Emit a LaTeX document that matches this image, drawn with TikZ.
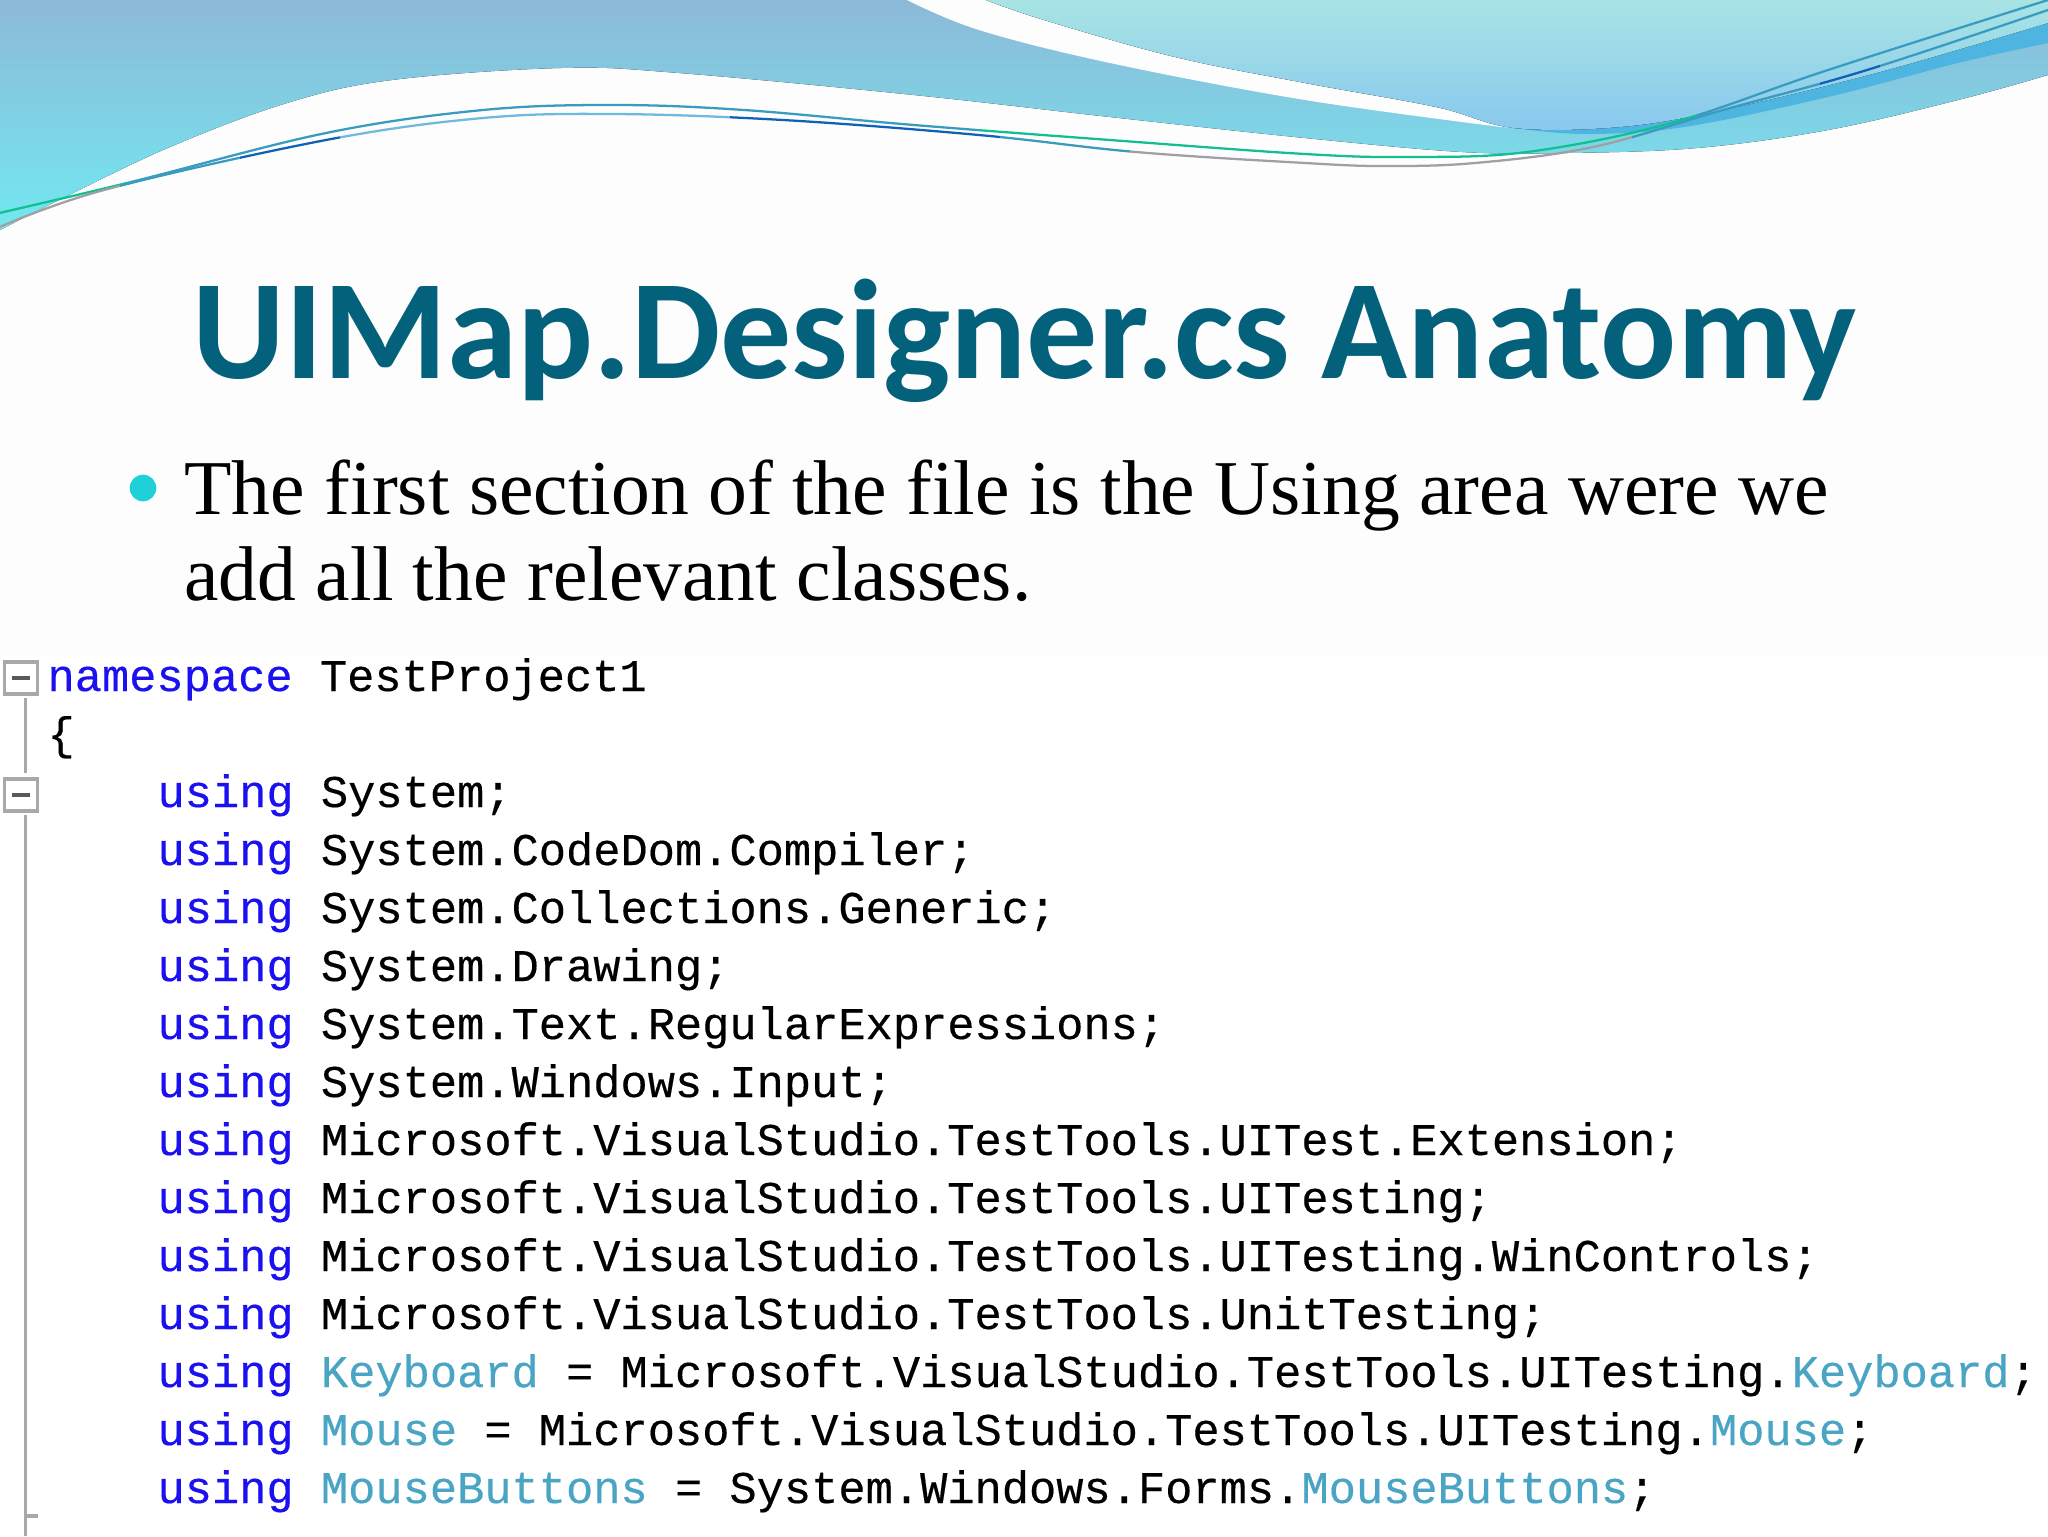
\documentclass[tikz,border=0pt]{standalone}
\usepackage{fontspec}
\usepackage{xcolor}
\setmainfont{Liberation Serif}
\newfontfamily\titlefont{Carlito}
\newfontfamily\codefont[FakeBold=0.35]{Liberation Mono}
\usetikzlibrary{positioning}
\definecolor{titleteal}{HTML}{04617B}
\definecolor{bulletcyan}{HTML}{1FD0D8}
\definecolor{slidebg}{HTML}{FDFDFE}
\definecolor{keyblue}{HTML}{1A10F0}
\definecolor{typeteal}{HTML}{4AA5C5}
\definecolor{foldgrey}{HTML}{A8A8AC}
\definecolor{wavetop}{HTML}{8DB9D8}
\definecolor{wavelow}{HTML}{72E8F0}
\definecolor{paletop}{HTML}{A8E4E4}
\definecolor{palelow}{HTML}{88C8EE}
\definecolor{waveband}{HTML}{4DB5E0}
\definecolor{wireteal}{HTML}{3A9BC0}
\definecolor{wiregreen}{HTML}{10C090}
\definecolor{wireblue}{HTML}{1060B8}
\definecolor{wirepale}{HTML}{70B8DC}
\definecolor{wiregrey}{HTML}{A0A0A4}
\newcommand{\kw}[1]{\textcolor{keyblue}{#1}}
\newcommand{\ty}[1]{\textcolor{typeteal}{#1}}
\def\linesep{58}
\def\upperwire{plot[smooth,tension=0.6] coordinates {(-5,214) (131,182) (326,133) (483,110) (614,105) (744,110) (914,125) (1110,140) (1305,154) (1410,157) (1527,152) (1671,123) (1828,70) (2048,0)}}
\def\lowerwire{plot[smooth,tension=0.6] coordinates {(-5,229) (104,190) (326,140) (483,118) (614,114) (783,120) (979,135) (1136,152) (1305,163) (1384,166) (1475,163) (1593,147) (1723,110) (1867,70) (2048,10)}}

\begin{document}
\begin{tikzpicture}[x=0.375pt,y=-0.375pt]
    \tikzstyle{titletext}=[anchor=base west,inner sep=0pt,text=titleteal,font=\titlefont\bfseries\fontsize{53.2}{60}\selectfont]
    \tikzstyle{bodytext}=[anchor=base west,inner sep=0pt,text=black,font=\fontsize{29.1}{35}\selectfont]
    \tikzstyle{codeline}=[anchor=base west,inner sep=0pt,text=black,font=\codefont\fontsize{17.02}{20}\selectfont]
    \tikzstyle{foldbox}=[draw=foldgrey,line width=1.2pt,fill=white,minimum width=12.5pt,minimum height=12pt,inner sep=0pt]
    \tikzstyle{foldline}=[draw=foldgrey,line width=1.3pt]
    \tikzstyle{foldminus}=[draw=black!65,line width=1.2pt]
    \tikzstyle{wire}=[line width=0.85pt]

    \useasboundingbox (0,0) rectangle (2048,1536);
    \fill[slidebg] (0,0) rectangle (2048,1536);

    % Draw the waves of the header
    \fill[top color=wavetop,bottom color=wavelow] (0,0) -- (2048,0) -- (2048,75)
        -- plot[smooth,tension=0.6] coordinates {(2048,75) (1958,100) (1828,130) (1697,148) (1567,153) (1462,152) (1305,138) (1110,117) (914,95) (679,73) (561,68) (392,80) (287,103) (170,147) (65,197) (0,230)}
        -- cycle;
    \fill[slidebg] plot[smooth,tension=0.6] coordinates {(907,0) (979,30) (1110,63) (1305,100) (1501,127)}
        -- plot[smooth,tension=0.6] coordinates {(1514,128) (1436,107) (1305,83) (1175,57) (1044,20) (986,0)} -- cycle;
    \fill[waveband] plot[smooth,tension=0.6] coordinates {(1514,128) (1586,134) (1684,127) (1828,97) (1958,63) (2048,43)}
        -- (2048,0) -- (1800,0) -- cycle;
    \fill[top color=paletop,bottom color=palelow] (986,0) -- (2048,0) -- (2048,23)
        -- plot[smooth,tension=0.6] coordinates {(2048,23) (1880,72) (1723,110) (1620,127) (1514,128) (1436,107) (1305,83) (1175,57) (1044,20) (986,0)} -- cycle;

    % Draw the code area
    \fill[white] (0,655) rectangle (2048,1536);

    % Draw the thin wires
    \foreach \xa/\xb/\col in {-5/130/wiregreen,130/979/wireteal,979/1697/wiregreen,1697/2048/wireteal}
    {
        \begin{scope}
            \clip (\xa,0) rectangle (\xb,260);
            \draw[wire,draw=\col] \upperwire;
        \end{scope}
    }
    \foreach \xa/\xb/\col in {-5/120/wiregrey,120/240/wireteal,240/340/wireblue,340/730/wirepale,730/1000/wireblue,1000/1130/wireteal,1130/1632/wiregrey,1632/1820/wireteal,1820/1880/wireblue,1880/2048/wireteal}
    {
        \begin{scope}
            \clip (\xa,0) rectangle (\xb,260);
            \draw[wire,draw=\col] \lowerwire;
        \end{scope}
    }

    % Draw the title and the bullet
    \node[titletext] (title) at (192,378) {UIMap.Designer.cs Anatomy};
    \node[circle,fill=bulletcyan,minimum size=10pt,inner sep=0pt] (bullet) at (143,488) {};
    \node[bodytext] (body-1) at (184,514) {The first section of the file is the Using area were we};
    \node[bodytext] (body-2) at (184,600) {add all the relevant classes.};

    % Draw the fold markers
    \node[foldbox] (F-1) at (21,678) {};
    \node[foldbox] (F-2) at (21,795) {};
    \coordinate (F-1-down) at (25.5,698);
    \coordinate (F-2-up) at (25.5,773);
    \coordinate (F-3-up) at (25.5,815);
    \coordinate (F-3-down) at (25.5,1536);
    \coordinate (F-tick) at (25.5,1516);
    \coordinate (F-tick-end) at (38,1516);
    \draw[foldline] (F-1-down) -- (F-2-up);
    \draw[foldline] (F-3-up) -- (F-3-down);
    \draw[foldline] (F-tick) -- (F-tick-end);
    \foreach \fold in {F-1,F-2}
        \draw[foldminus] ([xshift=-3.3pt]\fold.center) -- ([xshift=3.3pt]\fold.center);

    % Draw the code
    \node[codeline] (L-1) at (47,691) {\kw{namespace} TestProject1};
    \node[codeline] (L-2) at (47,749) {\{};
    \foreach \num/\txt in {3/System;,
        4/System.CodeDom.Compiler;,
        5/System.Collections.Generic;,
        6/System.Drawing;,
        7/System.Text.RegularExpressions;,
        8/System.Windows.Input;,
        9/Microsoft.VisualStudio.TestTools.UITest.Extension;,
        10/Microsoft.VisualStudio.TestTools.UITesting;,
        11/Microsoft.VisualStudio.TestTools.UITesting.WinControls;,
        12/Microsoft.VisualStudio.TestTools.UnitTesting;,
        13/\ty{Keyboard} = Microsoft.VisualStudio.TestTools.UITesting.\ty{Keyboard};,
        14/\ty{Mouse} = Microsoft.VisualStudio.TestTools.UITesting.\ty{Mouse};,
        15/\ty{MouseButtons} = System.Windows.Forms.\ty{MouseButtons};}
        \node[codeline] (L-\num) at (157,{691+\linesep*(\num-1)}) {\kw{using} \txt};
\end{tikzpicture}
\end{document}
